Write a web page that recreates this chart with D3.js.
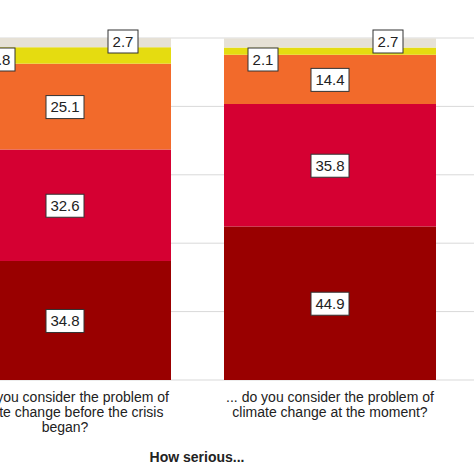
<!DOCTYPE html><html><head><meta charset="utf-8"><script src="https://cdn.jsdelivr.net/npm/d3@7"></script>
<style>body{margin:0;background:#fff}</style></head><body><svg id="c" width="474" height="474"></svg>
<script>
const categories=["before","now"];
const catLabels=[["... do you consider the problem of","climate change before the crisis","began?"],["... do you consider the problem of","climate change at the moment?"]];
const seriesNames=["s1","s2","s3","s4","s5"];
const colors=["#990000","#d50032","#f26a2b","#e5dc10","#e6e1d6"];
const valuesBefore=[34.8,32.6,25.1,4.8,2.7];
const valuesNow=[44.9,35.8,14.4,2.1,2.7];
const yTicks=[0,20,40,60,80,100];
const labelDx=[[0,0,0,-65,58],[0,0,0,-67,58]];
const labelY=[[null,null,null,59,41],[null,null,null,59,41]];
const svg=d3.select("#c");
const x=d3.scaleBand().domain(categories).range([-67.5,462.5]).paddingInner(0.2).paddingOuter(0.1);
const y=d3.scaleLinear().domain([0,100]).range([380,38]);
svg.append("g").selectAll("line").data(yTicks).join("line").attr("x1",0).attr("x2",474).attr("y1",d=>y(d)).attr("y2",d=>y(d)).attr("stroke","#d9d9d9");
const data=[valuesBefore,valuesNow];
data.forEach((vals,i)=>{
  let acc=0;
  vals.forEach((v,j)=>{
    const y0=acc,y1=acc+v;acc=y1;
    svg.append("rect").attr("x",x(categories[i])).attr("width",x.bandwidth()).attr("y",y(y1)).attr("height",y(y0)-y(y1)).attr("fill",colors[j]);
  });
  acc=0;
  vals.forEach((v,j)=>{
    const y0=acc,y1=acc+v;acc=y1;
    const cx=x(categories[i])+x.bandwidth()/2+labelDx[i][j];
    const cy=labelY[i][j]!=null?labelY[i][j]:(y(y0)+y(y1))/2;
    const g=svg.append("g");
    g.append("text").attr("x",cx).attr("y",cy+5.5).attr("text-anchor","middle").attr("font-family","Liberation Sans, Arial").attr("font-size",15).attr("fill","#222").text(v.toFixed(1));
    const w=v>=10?38:30;
    g.insert("rect","text").attr("x",cx-w/2).attr("y",cy-11).attr("width",w).attr("height",23).attr("fill","#fff").attr("stroke","#333");
  });
});
categories.forEach((c,i)=>{
  const cx=x(c)+x.bandwidth()/2;
  catLabels[i].forEach((l,k)=>svg.append("text").attr("x",cx).attr("y",402+k*15).attr("text-anchor","middle").attr("font-family","Liberation Sans, Arial").attr("font-size",14).attr("fill","#222").text(l));
});
svg.append("text").attr("x",197).attr("y",462).attr("text-anchor","middle").attr("font-family","Liberation Sans, Arial").attr("font-weight","bold").attr("font-size",14).attr("fill","#222").text("How serious...");
</script></body></html>
